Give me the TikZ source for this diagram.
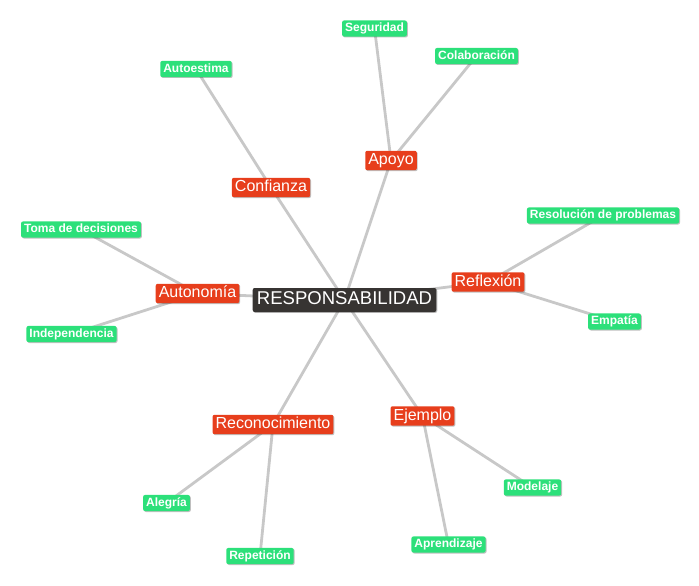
\documentclass[tikz,border=0pt]{standalone}
\usepackage{fontspec}
\setmainfont{Liberation Sans}
\usetikzlibrary{shadows,backgrounds}
\definecolor{verde}{RGB}{44,224,122}
\definecolor{rojo}{RGB}{231,62,28}
\definecolor{oscuro}{RGB}{55,52,50}
\definecolor{linea}{RGB}{200,200,200}
\tikzset{
  caja/.style={text=white, rounded corners=1.5pt, inner ysep=0pt,
    drop shadow={shadow xshift=0.7pt, shadow yshift=-0.7pt, fill=black, opacity=0.25}},
  centro/.style={caja, fill=oscuro, font=\fontsize{13.9}{16}\selectfont,
    inner xsep=3.2pt, text height=10pt, text depth=2.6pt, inner ysep=2.7pt},
  tema/.style={caja, fill=rojo, font=\fontsize{12}{14}\selectfont,
    inner xsep=2.3pt, text height=8.7pt, text depth=2.5pt, inner ysep=1.7pt},
  idea/.style={caja, fill=verde, font=\bfseries\fontsize{9}{11}\selectfont,
    inner xsep=2.3pt, text height=6.6pt, text depth=1.9pt, inner ysep=1.8pt},
  rama/.style={draw=linea, line width=2.1pt}
}
\begin{document}
\begin{tikzpicture}[x=0.75pt,y=-0.75pt]
\useasboundingbox (0,0) rectangle (699,585);
% centre
\node[centro] (resp) at (344.5,300) {RESPONSABILIDAD};
% temas
\node[tema] (apoyo) at (391,160.5) {Apoyo};
\node[tema] (confianza) at (271,187.5) {Confianza};
\node[tema] (reflexion) at (488,282) {Reflexión};
\node[tema] (autonomia) at (197.5,293.5) {Autonomía};
\node[tema] (reconoc) at (273,424.5) {Reconocimiento};
\node[tema] (ejemplo) at (422.5,416) {Ejemplo};
% ideas
\node[idea] (seguridad) at (374.5,28.5) {Seguridad};
\node[idea] (colabora) at (476.5,56) {Colaboración};
\node[idea] (autoestima) at (196,69) {Autoestima};
\node[idea] (resolucion) at (603,215.5) {Resolución de problemas};
\node[idea] (empatia) at (614.5,321.5) {Empatía};
\node[idea] (decisiones) at (81,229.5) {Toma de decisiones};
\node[idea] (independ) at (71.5,334) {Independencia};
\node[idea] (alegria) at (166.5,503) {Alegría};
\node[idea] (repeticion) at (260,556) {Repetición};
\node[idea] (aprendizaje) at (448.5,544.5) {Aprendizaje};
\node[idea] (modelaje) at (532.5,487.5) {Modelaje};
% lineas
\begin{scope}[on background layer]
  \foreach \t in {apoyo,confianza,reflexion,autonomia,reconoc,ejemplo}
    \draw[rama] (resp.center) -- (\t.center);
  \draw[rama] (apoyo.center) -- (seguridad.center);
  \draw[rama] (apoyo.center) -- (colabora.center);
  \draw[rama] (confianza.center) -- (autoestima.center);
  \draw[rama] (reflexion.center) -- (resolucion.center);
  \draw[rama] (reflexion.center) -- (empatia.center);
  \draw[rama] (autonomia.center) -- (decisiones.center);
  \draw[rama] (autonomia.center) -- (independ.center);
  \draw[rama] (reconoc.center) -- (alegria.center);
  \draw[rama] (reconoc.center) -- (repeticion.center);
  \draw[rama] (ejemplo.center) -- (aprendizaje.center);
  \draw[rama] (ejemplo.center) -- (modelaje.center);
\end{scope}
\end{tikzpicture}
\end{document}
